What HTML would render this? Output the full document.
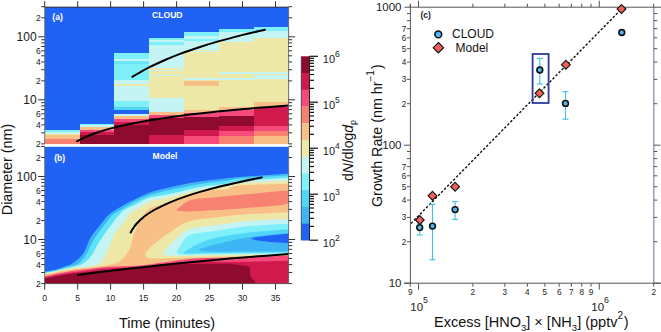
<!DOCTYPE html><html><head><meta charset="utf-8"><style>html,body{margin:0;padding:0;background:#fff;width:661px;height:332px;overflow:hidden}svg{display:block}</style></head><body>
<svg width="661" height="332" viewBox="0 0 661 332" font-family='"Liberation Sans", sans-serif'>
<defs><clipPath id="ca"><rect x="44.7" y="7.2" width="243.9" height="136.7"/></clipPath>
<clipPath id="cb"><rect x="44.7" y="146.6" width="243.9" height="137.0"/></clipPath></defs>
<g clip-path="url(#ca)" shape-rendering="crispEdges">
<rect x="44.7" y="7.2" width="243.9" height="136.7" fill="#2062f4"/>
<rect x="44.7" y="129.9" width="35.1" height="1.9" fill="#7ef0fa"/>
<rect x="44.7" y="131.8" width="35.1" height="1.7" fill="#c4f4f4"/>
<rect x="44.7" y="133.5" width="35.1" height="1.9" fill="#eee8a8"/>
<rect x="44.7" y="135.4" width="35.1" height="3.6" fill="#f8c086"/>
<rect x="44.7" y="139.0" width="35.1" height="6.0" fill="#f88272"/>
<rect x="79.8" y="123.6" width="34.5" height="1.0" fill="#7ef0fa"/>
<rect x="79.8" y="124.6" width="34.5" height="2.6" fill="#c4f4f4"/>
<rect x="79.8" y="127.2" width="34.5" height="2.3" fill="#f8c086"/>
<rect x="79.8" y="129.5" width="34.5" height="2.2" fill="#f64a7a"/>
<rect x="79.8" y="131.7" width="34.5" height="3.6" fill="#d01a4e"/>
<rect x="79.8" y="135.3" width="34.5" height="9.7" fill="#8e0a2e"/>
<rect x="114.3" y="52.5" width="34.7" height="6.0" fill="#7ef0fa"/>
<rect x="114.3" y="58.5" width="34.7" height="2.0" fill="#c4f4f4"/>
<rect x="114.3" y="60.5" width="34.7" height="3.0" fill="#6ae4f6"/>
<rect x="114.3" y="63.5" width="34.7" height="16.9" fill="#7ef0fa"/>
<rect x="114.3" y="80.4" width="34.7" height="3.5" fill="#c4f4f4"/>
<rect x="114.3" y="83.9" width="34.7" height="2.5" fill="#eee8a8"/>
<rect x="114.3" y="86.4" width="34.7" height="14.3" fill="#c4f4f4"/>
<rect x="114.3" y="100.7" width="34.7" height="6.0" fill="#7ef0fa"/>
<rect x="114.3" y="106.7" width="34.7" height="3.3" fill="#52d6f8"/>
<rect x="114.3" y="110.0" width="34.7" height="3.8" fill="#2062f4"/>
<rect x="114.3" y="113.8" width="34.7" height="2.3" fill="#c4f4f4"/>
<rect x="114.3" y="116.1" width="34.7" height="3.2" fill="#f8c086"/>
<rect x="114.3" y="119.3" width="34.7" height="2.5" fill="#f64a7a"/>
<rect x="114.3" y="121.8" width="34.7" height="3.2" fill="#d01a4e"/>
<rect x="114.3" y="125.0" width="34.7" height="20.0" fill="#8e0a2e"/>
<rect x="149.0" y="37.8" width="35.2" height="2.2" fill="#7ef0fa"/>
<rect x="149.0" y="40.0" width="35.2" height="2.3" fill="#c4f4f4"/>
<rect x="149.0" y="42.3" width="35.2" height="3.0" fill="#7ef0fa"/>
<rect x="149.0" y="45.3" width="35.2" height="22.2" fill="#c4f4f4"/>
<rect x="149.0" y="67.5" width="35.2" height="2.0" fill="#eee8a8"/>
<rect x="149.0" y="69.5" width="35.2" height="1.5" fill="#c4f4f4"/>
<rect x="149.0" y="71.0" width="35.2" height="3.5" fill="#eee8a8"/>
<rect x="149.0" y="74.5" width="35.2" height="1.5" fill="#c4f4f4"/>
<rect x="149.0" y="76.0" width="35.2" height="22.2" fill="#eee8a8"/>
<rect x="149.0" y="98.2" width="35.2" height="13.7" fill="#c4f4f4"/>
<rect x="149.0" y="111.9" width="35.2" height="3.1" fill="#f8c086"/>
<rect x="149.0" y="115.0" width="35.2" height="3.2" fill="#f64a7a"/>
<rect x="149.0" y="118.2" width="35.2" height="16.9" fill="#8e0a2e"/>
<rect x="149.0" y="135.1" width="35.2" height="9.9" fill="#d01a4e"/>
<rect x="184.2" y="31.8" width="34.6" height="3.7" fill="#7ef0fa"/>
<rect x="184.2" y="35.5" width="34.6" height="3.1" fill="#c4f4f4"/>
<rect x="184.2" y="38.6" width="34.6" height="2.2" fill="#7ef0fa"/>
<rect x="184.2" y="40.8" width="34.6" height="9.0" fill="#c4f4f4"/>
<rect x="184.2" y="49.8" width="34.6" height="0.7" fill="#eee8a8"/>
<rect x="184.2" y="50.5" width="34.6" height="1.5" fill="#c4f4f4"/>
<rect x="184.2" y="52.0" width="34.6" height="26.0" fill="#eee8a8"/>
<rect x="184.2" y="78.0" width="34.6" height="2.0" fill="#c4f4f4"/>
<rect x="184.2" y="80.0" width="34.6" height="1.3" fill="#eee8a8"/>
<rect x="184.2" y="81.3" width="34.6" height="4.2" fill="#f8c086"/>
<rect x="184.2" y="85.5" width="34.6" height="24.3" fill="#eee8a8"/>
<rect x="184.2" y="109.8" width="34.6" height="3.2" fill="#f8c086"/>
<rect x="184.2" y="113.0" width="34.6" height="4.2" fill="#f64a7a"/>
<rect x="184.2" y="117.2" width="34.6" height="12.7" fill="#8e0a2e"/>
<rect x="184.2" y="129.9" width="34.6" height="6.3" fill="#d01a4e"/>
<rect x="184.2" y="136.2" width="34.6" height="8.8" fill="#f64a7a"/>
<rect x="218.8" y="29.0" width="34.8" height="3.3" fill="#7ef0fa"/>
<rect x="218.8" y="32.3" width="34.8" height="9.7" fill="#c4f4f4"/>
<rect x="218.8" y="42.0" width="34.8" height="30.0" fill="#eee8a8"/>
<rect x="218.8" y="72.0" width="34.8" height="1.5" fill="#c4f4f4"/>
<rect x="218.8" y="73.5" width="34.8" height="4.7" fill="#eee8a8"/>
<rect x="218.8" y="78.2" width="34.8" height="1.8" fill="#c4f4f4"/>
<rect x="218.8" y="80.0" width="34.8" height="26.6" fill="#eee8a8"/>
<rect x="218.8" y="106.6" width="34.8" height="3.2" fill="#f8c086"/>
<rect x="218.8" y="109.8" width="34.8" height="6.3" fill="#f64a7a"/>
<rect x="218.8" y="116.1" width="34.8" height="9.5" fill="#8e0a2e"/>
<rect x="218.8" y="125.6" width="34.8" height="5.3" fill="#d01a4e"/>
<rect x="218.8" y="130.9" width="34.8" height="5.3" fill="#f64a7a"/>
<rect x="218.8" y="136.2" width="34.8" height="8.8" fill="#f88272"/>
<rect x="253.6" y="26.8" width="35.0" height="4.2" fill="#7ef0fa"/>
<rect x="253.6" y="31.0" width="35.0" height="6.5" fill="#c4f4f4"/>
<rect x="253.6" y="37.5" width="35.0" height="34.5" fill="#eee8a8"/>
<rect x="253.6" y="72.0" width="35.0" height="1.5" fill="#c4f4f4"/>
<rect x="253.6" y="73.5" width="35.0" height="1.5" fill="#eee8a8"/>
<rect x="253.6" y="75.0" width="35.0" height="4.0" fill="#c4f4f4"/>
<rect x="253.6" y="79.0" width="35.0" height="23.4" fill="#eee8a8"/>
<rect x="253.6" y="102.4" width="35.0" height="4.2" fill="#f8c086"/>
<rect x="253.6" y="106.6" width="35.0" height="19.0" fill="#d01a4e"/>
<rect x="253.6" y="125.6" width="35.0" height="5.3" fill="#f64a7a"/>
<rect x="253.6" y="130.9" width="35.0" height="5.3" fill="#f88272"/>
<rect x="253.6" y="136.2" width="35.0" height="8.8" fill="#f8c086"/>
<path shape-rendering="auto" d="M132.4,76.8 C133.7,76.0 137.1,73.9 140.0,72.3 C142.9,70.7 145.8,69.0 150.0,66.9 C154.2,64.9 160.0,62.2 165.0,60.0 C170.0,57.8 174.2,56.1 180.0,53.9 C185.8,51.7 193.3,49.2 200.0,47.0 C206.7,44.8 213.3,42.8 220.0,40.9 C226.7,39.0 232.5,37.5 240.0,35.6 C247.5,33.7 260.8,30.7 265.0,29.7" fill="none" stroke="#000" stroke-width="2" stroke-linecap="round"/>
<path shape-rendering="auto" d="M77.0,141.3 C78.3,140.6 82.0,138.6 85.0,137.3 C88.0,136.0 90.8,134.8 95.0,133.3 C99.2,131.9 104.2,130.2 110.0,128.6 C115.8,127.0 122.5,125.4 130.0,123.9 C137.5,122.4 145.8,120.9 155.0,119.4 C164.2,118.0 174.2,116.6 185.0,115.2 C195.8,113.8 208.3,112.5 220.0,111.3 C231.7,110.1 243.5,109.1 255.0,108.1 C266.5,107.1 283.3,105.9 289.0,105.5" fill="none" stroke="#000" stroke-width="2" stroke-linecap="round"/>
</g>
<text x="52.3" y="20.3" font-size="8.6" font-weight="700" fill="#fff">(a)</text>
<text x="152" y="17.6" font-size="8.6" font-weight="700" fill="#fff">CLOUD</text>
<g clip-path="url(#cb)">
<rect x="44.7" y="146.6" width="243.9" height="137.0" fill="#2062f4"/>
<path d="M40.0,272.3 C40.8,272.2 42.5,272.0 45.0,271.6 C47.5,271.2 51.5,270.7 55.0,269.8 C58.5,268.9 63.3,267.1 66.0,266.1 C68.7,265.1 69.5,265.0 71.4,263.9 C73.4,262.8 75.7,261.2 77.7,259.4 C79.7,257.6 81.9,255.6 83.6,253.0 C85.3,250.4 86.6,246.4 87.7,244.0 C88.8,241.6 89.1,240.2 90.0,238.5 C90.9,236.8 91.3,236.2 93.0,234.0 C94.7,231.8 97.6,228.2 100.2,225.0 C102.8,221.8 105.3,217.9 108.5,215.0 C111.7,212.1 114.9,210.2 119.5,207.5 C124.1,204.8 130.9,201.3 136.0,198.8 C141.1,196.3 144.3,194.5 150.0,192.6 C155.7,190.7 164.2,188.7 170.0,187.3 C175.8,185.9 180.0,185.0 185.0,184.0 C190.0,183.0 193.3,182.4 200.0,181.5 C206.7,180.6 218.3,179.2 225.0,178.5 C231.7,177.8 229.0,177.9 240.0,177.0 C251.0,176.1 282.5,173.9 291.0,173.3 L295.0,290.0 L40.0,290.0 Z" fill="#3eb6f6"/>
<path d="M40.0,273.0 C40.8,272.9 42.5,272.7 45.0,272.3 C47.5,271.9 51.5,271.3 55.0,270.5 C58.5,269.7 63.3,268.2 66.0,267.5 C68.7,266.8 69.5,266.7 71.4,266.1 C73.4,265.5 75.8,265.0 77.7,263.9 C79.6,262.8 81.1,261.2 82.7,259.4 C84.3,257.6 85.7,255.6 87.2,253.0 C88.7,250.4 89.8,247.2 91.5,244.0 C93.2,240.8 95.3,237.2 97.5,234.0 C99.7,230.8 102.0,228.2 104.5,225.0 C107.0,221.8 109.7,217.6 112.5,215.0 C115.3,212.4 117.6,211.8 121.5,209.5 C125.4,207.2 131.2,203.7 136.0,201.3 C140.8,198.9 144.3,196.9 150.0,195.0 C155.7,193.1 161.7,191.8 170.0,189.9 C178.3,188.1 190.8,185.4 200.0,183.9 C209.2,182.4 218.3,181.9 225.0,181.0 C231.7,180.1 229.0,179.5 240.0,178.5 C251.0,177.5 282.5,175.8 291.0,175.2 L295.0,290.0 L40.0,290.0 Z" fill="#5ee2f8"/>
<path d="M40.0,273.6 C40.8,273.5 42.5,273.4 45.0,273.0 C47.5,272.6 51.5,271.9 55.0,271.2 C58.5,270.4 62.7,269.3 66.0,268.5 C69.3,267.7 72.3,267.2 75.0,266.4 C77.7,265.6 80.1,265.1 82.3,263.9 C84.5,262.7 86.3,261.2 88.1,259.4 C89.9,257.6 91.4,255.6 93.1,253.0 C94.8,250.4 96.1,247.2 98.0,244.0 C99.9,240.8 102.3,237.2 104.5,234.0 C106.7,230.8 108.8,228.2 111.2,225.0 C113.6,221.8 116.4,217.7 118.9,215.0 C121.4,212.3 123.3,210.7 126.0,209.0 C128.7,207.3 131.0,206.6 135.0,204.7 C139.0,202.8 144.2,199.3 150.0,197.5 C155.8,195.7 161.7,195.7 170.0,193.9 C178.3,192.1 190.8,188.6 200.0,186.9 C209.2,185.2 218.3,184.9 225.0,183.9 C231.7,182.9 229.0,182.1 240.0,181.0 C251.0,179.9 282.5,178.1 291.0,177.5 L295.0,290.0 L40.0,290.0 Z" fill="#c4f4f4"/>
<path d="M40.0,274.2 C40.8,274.1 40.7,274.5 45.0,273.7 C49.3,272.9 60.2,270.2 66.0,269.2 C71.8,268.2 76.0,268.1 80.0,267.6 C84.0,267.1 87.0,266.8 90.0,266.3 C93.0,265.8 96.0,265.4 98.0,264.5 C100.0,263.6 100.4,263.4 102.0,261.0 C103.6,258.6 105.9,253.5 107.5,250.0 C109.1,246.5 110.6,242.7 111.8,240.0 C113.0,237.3 112.9,236.5 114.4,234.0 C115.9,231.5 118.6,228.2 121.0,225.0 C123.4,221.8 126.6,217.5 128.9,215.0 C131.2,212.5 131.5,212.2 135.0,210.0 C138.5,207.8 144.2,203.9 150.0,201.7 C155.8,199.5 161.7,199.0 170.0,197.0 C178.3,195.0 190.8,191.6 200.0,189.9 C209.2,188.2 218.3,188.0 225.0,186.9 C231.7,185.8 229.0,184.6 240.0,183.5 C251.0,182.4 282.5,181.0 291.0,180.5 L295.0,290.0 L40.0,290.0 Z" fill="#eee8a8"/>
<path d="M40.0,275.0 C40.8,274.9 40.7,275.3 45.0,274.5 C49.3,273.7 59.5,271.5 66.0,270.4 C72.5,269.3 77.3,268.8 84.0,268.0 C90.7,267.2 100.7,266.2 106.0,265.4 C111.3,264.6 113.4,263.9 116.0,263.0 C118.6,262.1 119.4,262.2 121.6,260.0 C123.8,257.8 127.3,253.3 129.1,250.0 C130.9,246.7 131.5,243.0 132.4,240.0 C133.3,237.0 133.6,234.5 134.5,232.0 C135.4,229.5 136.7,227.3 137.9,225.0 C139.2,222.7 140.0,220.8 142.0,218.0 C144.0,215.2 145.3,210.8 150.0,208.3 C154.7,205.8 161.7,205.7 170.0,202.9 C178.3,200.1 190.8,194.0 200.0,191.7 C209.2,189.4 218.3,190.3 225.0,189.3 C231.7,188.3 229.0,186.4 240.0,185.5 C251.0,184.6 282.5,184.1 291.0,183.8 L295.0,290.0 L40.0,290.0 Z" fill="#f8c086"/>
<path d="M176.0,210.5 C178.3,208.8 182.7,202.8 190.0,200.5 C197.3,198.2 210.0,197.9 220.0,196.8 C230.0,195.7 238.0,194.9 250.0,194.0 C262.0,193.1 285.0,189.7 292.0,191.2 C299.0,192.7 300.7,200.1 292.0,203.0 C283.3,205.9 255.3,207.2 240.0,208.5 C224.7,209.8 209.2,210.5 200.0,211.0 C190.8,211.5 187.5,211.4 185.0,211.5 Z" fill="#f88272"/>
<path d="M292.0,212.0 C285.0,212.3 262.0,213.2 250.0,214.0 C238.0,214.8 230.0,215.8 220.0,217.0 C210.0,218.2 198.0,218.7 190.0,221.0 C182.0,223.3 177.3,227.7 172.0,231.0 C166.7,234.3 162.0,237.8 158.0,241.0 C154.0,244.2 150.1,247.8 148.0,250.0 C145.9,252.2 145.1,252.6 145.4,254.0 C145.7,255.4 145.9,257.5 150.0,258.2 C154.1,258.9 161.7,258.4 170.0,258.2 C178.3,258.0 188.3,257.5 200.0,257.2 C211.7,256.9 224.7,256.6 240.0,256.2 C255.3,255.8 283.3,255.2 292.0,255.0 Z" fill="#eee8a8"/>
<path d="M292.0,219.0 C285.0,219.3 262.0,219.8 250.0,220.8 C238.0,221.8 230.0,223.4 220.0,224.8 C210.0,226.2 197.5,226.5 190.0,229.0 C182.5,231.5 179.0,236.7 175.0,240.0 C171.0,243.3 167.9,246.8 166.0,249.0 C164.1,251.2 163.2,251.9 163.5,253.0 C163.8,254.1 161.9,255.2 168.0,255.6 C174.1,256.0 188.0,255.5 200.0,255.4 C212.0,255.3 224.7,255.0 240.0,254.8 C255.3,254.6 283.3,254.1 292.0,254.0 Z" fill="#c4f4f4"/>
<path d="M292.0,223.5 C285.0,223.9 262.0,224.9 250.0,226.0 C238.0,227.1 230.0,228.8 220.0,230.3 C210.0,231.8 196.5,232.6 190.0,235.0 C183.5,237.4 183.2,242.2 181.0,245.0 C178.8,247.8 176.8,250.4 177.0,252.0 C177.2,253.6 176.5,254.2 182.0,254.6 C187.5,255.0 198.7,254.4 210.0,254.3 C221.3,254.2 236.3,254.0 250.0,253.8 C263.7,253.6 285.0,253.3 292.0,253.2 Z" fill="#7ef0fa"/>
<path d="M292.0,229.0 C285.0,229.6 262.0,231.2 250.0,232.5 C238.0,233.8 228.3,235.2 220.0,237.0 C211.7,238.8 205.7,240.7 200.0,243.0 C194.3,245.3 188.5,249.2 186.0,251.0 C183.5,252.8 182.7,253.1 185.0,253.5 C187.3,253.9 190.8,253.4 200.0,253.3 C209.2,253.2 224.7,253.0 240.0,252.8 C255.3,252.7 283.3,252.5 292.0,252.4 Z" fill="#52d6f8"/>
<path d="M292.0,232.5 C285.0,233.2 260.3,235.6 250.0,237.0 C239.7,238.4 236.7,239.5 230.0,241.0 C223.3,242.5 215.2,244.6 210.0,246.0 C204.8,247.4 199.0,248.6 199.0,249.5 C199.0,250.4 203.2,251.3 210.0,251.6 C216.8,251.9 226.3,251.6 240.0,251.5 C253.7,251.4 283.3,251.2 292.0,251.2 Z" fill="#3eb6f6"/>
<path d="M292.0,233.5 C288.3,233.8 276.8,234.7 270.0,235.5 C263.2,236.3 251.0,237.5 251.0,238.6 C251.0,239.7 263.2,241.2 270.0,242.0 C276.8,242.8 288.3,243.0 292.0,243.2 Z" fill="#2062f4"/>
<path d="M40.0,276.6 C40.8,276.5 40.7,276.8 45.0,276.0 C49.3,275.2 59.5,273.1 66.0,272.0 C72.5,270.9 77.3,270.4 84.0,269.6 C90.7,268.8 96.7,267.7 106.0,267.0 C115.3,266.3 129.3,266.4 140.0,265.5 C150.7,264.6 160.8,262.7 170.0,261.5 C179.2,260.3 185.0,259.2 195.0,258.5 C205.0,257.8 214.0,258.0 230.0,257.5 C246.0,257.0 280.8,255.9 291.0,255.6 L295.0,290.0 L40.0,290.0 Z" fill="#f64a7a"/>
<path d="M40.0,278.0 C40.8,277.9 40.7,278.2 45.0,277.4 C49.3,276.6 59.5,274.4 66.0,273.4 C72.5,272.4 77.3,272.0 84.0,271.2 C90.7,270.4 96.7,269.2 106.0,268.5 C115.3,267.8 129.3,267.7 140.0,266.8 C150.7,265.9 160.8,264.3 170.0,263.4 C179.2,262.5 185.0,261.7 195.0,261.5 C205.0,261.3 219.2,262.0 230.0,262.0 C240.8,262.0 249.8,261.7 260.0,261.5 C270.2,261.3 285.8,260.9 291.0,260.8 L295.0,290.0 L40.0,290.0 Z" fill="#d01a4e"/>
<polygon points="40.0,278.9 45.0,278.3 66.0,274.6 84.0,272.6 106.0,270.3 140.0,267.8 170.0,264.6 195.0,263.9 230.0,263.7 249.6,266.4 250.3,276.6 262.0,290.0 40.0,290.0" fill="#8e0a2e" />
<path d="M130.7,232.4 C131.2,231.6 132.4,229.3 133.5,227.8 C134.6,226.3 135.2,225.1 137.0,223.2 C138.8,221.3 141.3,218.8 144.3,216.5 C147.3,214.2 150.7,211.9 155.0,209.5 C159.3,207.1 165.0,204.5 170.0,202.3 C175.0,200.2 180.0,198.3 185.0,196.6 C190.0,194.9 194.2,193.6 200.0,191.9 C205.8,190.2 213.3,188.2 220.0,186.5 C226.7,184.8 233.0,183.4 240.0,181.9 C247.0,180.4 258.2,178.2 261.8,177.5" fill="none" stroke="#000" stroke-width="2" stroke-linecap="round"/>
<path d="M77.8,274.9 C81.5,274.4 91.3,273.2 100.0,272.1 C108.7,271.0 120.0,269.6 130.0,268.5 C140.0,267.4 150.0,266.4 160.0,265.3 C170.0,264.2 180.0,263.2 190.0,262.2 C200.0,261.2 210.0,260.3 220.0,259.4 C230.0,258.5 238.5,257.8 250.0,256.9 C261.5,256.0 282.5,254.5 289.0,254.0" fill="none" stroke="#000" stroke-width="2" stroke-linecap="round"/>
</g>
<text x="54.2" y="160.6" font-size="8.6" font-weight="700" fill="#fff">(b)</text>
<text x="152.5" y="158.7" font-size="8.6" font-weight="700" fill="#fff">Model</text>
<line x1="44.7" y1="7.2" x2="44.7" y2="143.9" stroke="#666" stroke-width="0.90" />
<line x1="288.6" y1="7.2" x2="288.6" y2="143.9" stroke="#666" stroke-width="0.90" />
<line x1="41.2" y1="143.9" x2="44.7" y2="143.9" stroke="#333" stroke-width="1.00" />
<line x1="288.6" y1="143.9" x2="292.1" y2="143.9" stroke="#333" stroke-width="1.00" />
<line x1="41.2" y1="132.8" x2="44.7" y2="132.8" stroke="#333" stroke-width="1.00" />
<line x1="288.6" y1="132.8" x2="292.1" y2="132.8" stroke="#333" stroke-width="1.00" />
<line x1="41.2" y1="124.9" x2="44.7" y2="124.9" stroke="#333" stroke-width="1.00" />
<line x1="288.6" y1="124.9" x2="292.1" y2="124.9" stroke="#333" stroke-width="1.00" />
<line x1="41.2" y1="118.8" x2="44.7" y2="118.8" stroke="#333" stroke-width="1.00" />
<line x1="288.6" y1="118.8" x2="292.1" y2="118.8" stroke="#333" stroke-width="1.00" />
<line x1="41.2" y1="113.8" x2="44.7" y2="113.8" stroke="#333" stroke-width="1.00" />
<line x1="288.6" y1="113.8" x2="292.1" y2="113.8" stroke="#333" stroke-width="1.00" />
<line x1="41.2" y1="109.6" x2="44.7" y2="109.6" stroke="#333" stroke-width="1.00" />
<line x1="288.6" y1="109.6" x2="292.1" y2="109.6" stroke="#333" stroke-width="1.00" />
<line x1="41.2" y1="105.9" x2="44.7" y2="105.9" stroke="#333" stroke-width="1.00" />
<line x1="288.6" y1="105.9" x2="292.1" y2="105.9" stroke="#333" stroke-width="1.00" />
<line x1="41.2" y1="102.7" x2="44.7" y2="102.7" stroke="#333" stroke-width="1.00" />
<line x1="288.6" y1="102.7" x2="292.1" y2="102.7" stroke="#333" stroke-width="1.00" />
<line x1="38.2" y1="99.8" x2="44.7" y2="99.8" stroke="#333" stroke-width="1.00" />
<line x1="288.6" y1="99.8" x2="295.1" y2="99.8" stroke="#333" stroke-width="1.00" />
<line x1="41.2" y1="80.9" x2="44.7" y2="80.9" stroke="#333" stroke-width="1.00" />
<line x1="288.6" y1="80.9" x2="292.1" y2="80.9" stroke="#333" stroke-width="1.00" />
<line x1="41.2" y1="69.7" x2="44.7" y2="69.7" stroke="#333" stroke-width="1.00" />
<line x1="288.6" y1="69.7" x2="292.1" y2="69.7" stroke="#333" stroke-width="1.00" />
<line x1="41.2" y1="61.9" x2="44.7" y2="61.9" stroke="#333" stroke-width="1.00" />
<line x1="288.6" y1="61.9" x2="292.1" y2="61.9" stroke="#333" stroke-width="1.00" />
<line x1="41.2" y1="55.8" x2="44.7" y2="55.8" stroke="#333" stroke-width="1.00" />
<line x1="288.6" y1="55.8" x2="292.1" y2="55.8" stroke="#333" stroke-width="1.00" />
<line x1="41.2" y1="50.8" x2="44.7" y2="50.8" stroke="#333" stroke-width="1.00" />
<line x1="288.6" y1="50.8" x2="292.1" y2="50.8" stroke="#333" stroke-width="1.00" />
<line x1="41.2" y1="46.5" x2="44.7" y2="46.5" stroke="#333" stroke-width="1.00" />
<line x1="288.6" y1="46.5" x2="292.1" y2="46.5" stroke="#333" stroke-width="1.00" />
<line x1="41.2" y1="42.9" x2="44.7" y2="42.9" stroke="#333" stroke-width="1.00" />
<line x1="288.6" y1="42.9" x2="292.1" y2="42.9" stroke="#333" stroke-width="1.00" />
<line x1="41.2" y1="39.7" x2="44.7" y2="39.7" stroke="#333" stroke-width="1.00" />
<line x1="288.6" y1="39.7" x2="292.1" y2="39.7" stroke="#333" stroke-width="1.00" />
<line x1="38.2" y1="36.8" x2="44.7" y2="36.8" stroke="#333" stroke-width="1.00" />
<line x1="288.6" y1="36.8" x2="295.1" y2="36.8" stroke="#333" stroke-width="1.00" />
<line x1="41.2" y1="17.8" x2="44.7" y2="17.8" stroke="#333" stroke-width="1.00" />
<line x1="288.6" y1="17.8" x2="292.1" y2="17.8" stroke="#333" stroke-width="1.00" />
<line x1="41.2" y1="6.7" x2="44.7" y2="6.7" stroke="#333" stroke-width="1.00" />
<line x1="288.6" y1="6.7" x2="292.1" y2="6.7" stroke="#333" stroke-width="1.00" />
<text x="40.9" y="20.9" font-size="8.6" text-anchor="end" fill="#1a1a1a">2</text>
<text x="36.6" y="41.0" font-size="12" text-anchor="end" fill="#1a1a1a">100</text>
<text x="40.9" y="53.9" font-size="8.6" text-anchor="end" fill="#1a1a1a">6</text>
<text x="40.9" y="65.0" font-size="8.6" text-anchor="end" fill="#1a1a1a">4</text>
<text x="40.9" y="84.0" font-size="8.6" text-anchor="end" fill="#1a1a1a">2</text>
<text x="36.6" y="104.0" font-size="12" text-anchor="end" fill="#1a1a1a">10</text>
<text x="40.9" y="116.9" font-size="8.6" text-anchor="end" fill="#1a1a1a">6</text>
<text x="40.9" y="128.0" font-size="8.6" text-anchor="end" fill="#1a1a1a">4</text>
<text x="40.9" y="147.0" font-size="8.6" text-anchor="end" fill="#1a1a1a">2</text>
<line x1="44.7" y1="146.6" x2="44.7" y2="283.6" stroke="#666" stroke-width="0.90" />
<line x1="288.6" y1="146.6" x2="288.6" y2="283.6" stroke="#666" stroke-width="0.90" />
<line x1="41.2" y1="283.6" x2="44.7" y2="283.6" stroke="#333" stroke-width="1.00" />
<line x1="288.6" y1="283.6" x2="292.1" y2="283.6" stroke="#333" stroke-width="1.00" />
<line x1="41.2" y1="272.5" x2="44.7" y2="272.5" stroke="#333" stroke-width="1.00" />
<line x1="288.6" y1="272.5" x2="292.1" y2="272.5" stroke="#333" stroke-width="1.00" />
<line x1="41.2" y1="264.6" x2="44.7" y2="264.6" stroke="#333" stroke-width="1.00" />
<line x1="288.6" y1="264.6" x2="292.1" y2="264.6" stroke="#333" stroke-width="1.00" />
<line x1="41.2" y1="258.5" x2="44.7" y2="258.5" stroke="#333" stroke-width="1.00" />
<line x1="288.6" y1="258.5" x2="292.1" y2="258.5" stroke="#333" stroke-width="1.00" />
<line x1="41.2" y1="253.5" x2="44.7" y2="253.5" stroke="#333" stroke-width="1.00" />
<line x1="288.6" y1="253.5" x2="292.1" y2="253.5" stroke="#333" stroke-width="1.00" />
<line x1="41.2" y1="249.3" x2="44.7" y2="249.3" stroke="#333" stroke-width="1.00" />
<line x1="288.6" y1="249.3" x2="292.1" y2="249.3" stroke="#333" stroke-width="1.00" />
<line x1="41.2" y1="245.6" x2="44.7" y2="245.6" stroke="#333" stroke-width="1.00" />
<line x1="288.6" y1="245.6" x2="292.1" y2="245.6" stroke="#333" stroke-width="1.00" />
<line x1="41.2" y1="242.4" x2="44.7" y2="242.4" stroke="#333" stroke-width="1.00" />
<line x1="288.6" y1="242.4" x2="292.1" y2="242.4" stroke="#333" stroke-width="1.00" />
<line x1="38.2" y1="239.5" x2="44.7" y2="239.5" stroke="#333" stroke-width="1.00" />
<line x1="288.6" y1="239.5" x2="295.1" y2="239.5" stroke="#333" stroke-width="1.00" />
<line x1="41.2" y1="220.6" x2="44.7" y2="220.6" stroke="#333" stroke-width="1.00" />
<line x1="288.6" y1="220.6" x2="292.1" y2="220.6" stroke="#333" stroke-width="1.00" />
<line x1="41.2" y1="209.4" x2="44.7" y2="209.4" stroke="#333" stroke-width="1.00" />
<line x1="288.6" y1="209.4" x2="292.1" y2="209.4" stroke="#333" stroke-width="1.00" />
<line x1="41.2" y1="201.6" x2="44.7" y2="201.6" stroke="#333" stroke-width="1.00" />
<line x1="288.6" y1="201.6" x2="292.1" y2="201.6" stroke="#333" stroke-width="1.00" />
<line x1="41.2" y1="195.5" x2="44.7" y2="195.5" stroke="#333" stroke-width="1.00" />
<line x1="288.6" y1="195.5" x2="292.1" y2="195.5" stroke="#333" stroke-width="1.00" />
<line x1="41.2" y1="190.5" x2="44.7" y2="190.5" stroke="#333" stroke-width="1.00" />
<line x1="288.6" y1="190.5" x2="292.1" y2="190.5" stroke="#333" stroke-width="1.00" />
<line x1="41.2" y1="186.2" x2="44.7" y2="186.2" stroke="#333" stroke-width="1.00" />
<line x1="288.6" y1="186.2" x2="292.1" y2="186.2" stroke="#333" stroke-width="1.00" />
<line x1="41.2" y1="182.6" x2="44.7" y2="182.6" stroke="#333" stroke-width="1.00" />
<line x1="288.6" y1="182.6" x2="292.1" y2="182.6" stroke="#333" stroke-width="1.00" />
<line x1="41.2" y1="179.4" x2="44.7" y2="179.4" stroke="#333" stroke-width="1.00" />
<line x1="288.6" y1="179.4" x2="292.1" y2="179.4" stroke="#333" stroke-width="1.00" />
<line x1="38.2" y1="176.5" x2="44.7" y2="176.5" stroke="#333" stroke-width="1.00" />
<line x1="288.6" y1="176.5" x2="295.1" y2="176.5" stroke="#333" stroke-width="1.00" />
<line x1="41.2" y1="157.5" x2="44.7" y2="157.5" stroke="#333" stroke-width="1.00" />
<line x1="288.6" y1="157.5" x2="292.1" y2="157.5" stroke="#333" stroke-width="1.00" />
<line x1="41.2" y1="146.4" x2="44.7" y2="146.4" stroke="#333" stroke-width="1.00" />
<line x1="288.6" y1="146.4" x2="292.1" y2="146.4" stroke="#333" stroke-width="1.00" />
<text x="40.9" y="160.6" font-size="8.6" text-anchor="end" fill="#1a1a1a">2</text>
<text x="36.6" y="180.7" font-size="12" text-anchor="end" fill="#1a1a1a">100</text>
<text x="40.9" y="193.6" font-size="8.6" text-anchor="end" fill="#1a1a1a">6</text>
<text x="40.9" y="204.7" font-size="8.6" text-anchor="end" fill="#1a1a1a">4</text>
<text x="40.9" y="223.7" font-size="8.6" text-anchor="end" fill="#1a1a1a">2</text>
<text x="36.6" y="243.7" font-size="12" text-anchor="end" fill="#1a1a1a">10</text>
<text x="40.9" y="256.6" font-size="8.6" text-anchor="end" fill="#1a1a1a">6</text>
<text x="40.9" y="267.7" font-size="8.6" text-anchor="end" fill="#1a1a1a">4</text>
<text x="40.9" y="286.7" font-size="8.6" text-anchor="end" fill="#1a1a1a">2</text>
<line x1="44.7" y1="7.2" x2="288.6" y2="7.2" stroke="#223" stroke-width="1.00" />
<line x1="44.7" y1="283.6" x2="288.6" y2="283.6" stroke="#555" stroke-width="0.90" />
<line x1="44.7" y1="1.2" x2="44.7" y2="7.2" stroke="#333" stroke-width="1.00" />
<line x1="44.7" y1="283.6" x2="44.7" y2="289.6" stroke="#333" stroke-width="1.00" />
<text x="44.7" y="300.8" font-size="8.6" text-anchor="middle" fill="#222">0</text>
<line x1="77.7" y1="1.2" x2="77.7" y2="7.2" stroke="#333" stroke-width="1.00" />
<line x1="77.7" y1="283.6" x2="77.7" y2="289.6" stroke="#333" stroke-width="1.00" />
<text x="77.7" y="300.8" font-size="8.6" text-anchor="middle" fill="#222">5</text>
<line x1="110.6" y1="1.2" x2="110.6" y2="7.2" stroke="#333" stroke-width="1.00" />
<line x1="110.6" y1="283.6" x2="110.6" y2="289.6" stroke="#333" stroke-width="1.00" />
<text x="110.6" y="300.8" font-size="8.6" text-anchor="middle" fill="#222">10</text>
<line x1="143.6" y1="1.2" x2="143.6" y2="7.2" stroke="#333" stroke-width="1.00" />
<line x1="143.6" y1="283.6" x2="143.6" y2="289.6" stroke="#333" stroke-width="1.00" />
<text x="143.6" y="300.8" font-size="8.6" text-anchor="middle" fill="#222">15</text>
<line x1="176.6" y1="1.2" x2="176.6" y2="7.2" stroke="#333" stroke-width="1.00" />
<line x1="176.6" y1="283.6" x2="176.6" y2="289.6" stroke="#333" stroke-width="1.00" />
<text x="176.6" y="300.8" font-size="8.6" text-anchor="middle" fill="#222">20</text>
<line x1="209.6" y1="1.2" x2="209.6" y2="7.2" stroke="#333" stroke-width="1.00" />
<line x1="209.6" y1="283.6" x2="209.6" y2="289.6" stroke="#333" stroke-width="1.00" />
<text x="209.6" y="300.8" font-size="8.6" text-anchor="middle" fill="#222">25</text>
<line x1="242.5" y1="1.2" x2="242.5" y2="7.2" stroke="#333" stroke-width="1.00" />
<line x1="242.5" y1="283.6" x2="242.5" y2="289.6" stroke="#333" stroke-width="1.00" />
<text x="242.5" y="300.8" font-size="8.6" text-anchor="middle" fill="#222">30</text>
<line x1="275.5" y1="1.2" x2="275.5" y2="7.2" stroke="#333" stroke-width="1.00" />
<line x1="275.5" y1="283.6" x2="275.5" y2="289.6" stroke="#333" stroke-width="1.00" />
<text x="275.5" y="300.8" font-size="8.6" text-anchor="middle" fill="#222">35</text>
<text x="167" y="327.8" font-size="14.5" text-anchor="middle" fill="#111">Time (minutes)</text>
<text transform="translate(12.3,169.5) rotate(-90)" font-size="14.3" text-anchor="middle" fill="#111">Diameter (nm)</text>
<rect x="301.3" y="56.30" width="8.2" height="17.02" fill="#8e0a2e"/>
<rect x="301.3" y="73.02" width="8.2" height="17.02" fill="#d01a4e"/>
<rect x="301.3" y="89.74" width="8.2" height="17.02" fill="#f64a7a"/>
<rect x="301.3" y="106.45" width="8.2" height="17.02" fill="#f88272"/>
<rect x="301.3" y="123.17" width="8.2" height="17.02" fill="#f8c086"/>
<rect x="301.3" y="139.89" width="8.2" height="17.02" fill="#eee8a8"/>
<rect x="301.3" y="156.61" width="8.2" height="17.02" fill="#c4f4f4"/>
<rect x="301.3" y="173.33" width="8.2" height="17.02" fill="#7ef0fa"/>
<rect x="301.3" y="190.05" width="8.2" height="17.02" fill="#52d6f8"/>
<rect x="301.3" y="206.76" width="8.2" height="17.02" fill="#3eb6f6"/>
<rect x="301.3" y="223.48" width="8.2" height="17.02" fill="#2062f4"/>
<line x1="309.5" y1="56.3" x2="309.5" y2="240.2" stroke="#222" stroke-width="1.00" />
<line x1="301.3" y1="56.3" x2="301.3" y2="240.2" stroke="#333" stroke-width="0.80" />
<line x1="309.5" y1="240.2" x2="318.0" y2="240.2" stroke="#111" stroke-width="1.20" />
<line x1="309.5" y1="226.4" x2="314.0" y2="226.4" stroke="#111" stroke-width="1.20" />
<line x1="309.5" y1="218.3" x2="314.0" y2="218.3" stroke="#111" stroke-width="1.20" />
<line x1="309.5" y1="212.5" x2="314.0" y2="212.5" stroke="#111" stroke-width="1.20" />
<line x1="309.5" y1="208.0" x2="314.0" y2="208.0" stroke="#111" stroke-width="1.20" />
<line x1="309.5" y1="204.4" x2="314.0" y2="204.4" stroke="#111" stroke-width="1.20" />
<line x1="309.5" y1="201.3" x2="314.0" y2="201.3" stroke="#111" stroke-width="1.20" />
<line x1="309.5" y1="198.7" x2="314.0" y2="198.7" stroke="#111" stroke-width="1.20" />
<line x1="309.5" y1="196.3" x2="314.0" y2="196.3" stroke="#111" stroke-width="1.20" />
<line x1="309.5" y1="194.2" x2="318.0" y2="194.2" stroke="#111" stroke-width="1.20" />
<line x1="309.5" y1="180.4" x2="314.0" y2="180.4" stroke="#111" stroke-width="1.20" />
<line x1="309.5" y1="172.3" x2="314.0" y2="172.3" stroke="#111" stroke-width="1.20" />
<line x1="309.5" y1="166.5" x2="314.0" y2="166.5" stroke="#111" stroke-width="1.20" />
<line x1="309.5" y1="162.0" x2="314.0" y2="162.0" stroke="#111" stroke-width="1.20" />
<line x1="309.5" y1="158.4" x2="314.0" y2="158.4" stroke="#111" stroke-width="1.20" />
<line x1="309.5" y1="155.3" x2="314.0" y2="155.3" stroke="#111" stroke-width="1.20" />
<line x1="309.5" y1="152.7" x2="314.0" y2="152.7" stroke="#111" stroke-width="1.20" />
<line x1="309.5" y1="150.3" x2="314.0" y2="150.3" stroke="#111" stroke-width="1.20" />
<line x1="309.5" y1="148.2" x2="318.0" y2="148.2" stroke="#111" stroke-width="1.20" />
<line x1="309.5" y1="134.4" x2="314.0" y2="134.4" stroke="#111" stroke-width="1.20" />
<line x1="309.5" y1="126.3" x2="314.0" y2="126.3" stroke="#111" stroke-width="1.20" />
<line x1="309.5" y1="120.5" x2="314.0" y2="120.5" stroke="#111" stroke-width="1.20" />
<line x1="309.5" y1="116.0" x2="314.0" y2="116.0" stroke="#111" stroke-width="1.20" />
<line x1="309.5" y1="112.4" x2="314.0" y2="112.4" stroke="#111" stroke-width="1.20" />
<line x1="309.5" y1="109.3" x2="314.0" y2="109.3" stroke="#111" stroke-width="1.20" />
<line x1="309.5" y1="106.7" x2="314.0" y2="106.7" stroke="#111" stroke-width="1.20" />
<line x1="309.5" y1="104.3" x2="314.0" y2="104.3" stroke="#111" stroke-width="1.20" />
<line x1="309.5" y1="102.2" x2="318.0" y2="102.2" stroke="#111" stroke-width="1.20" />
<line x1="309.5" y1="88.4" x2="314.0" y2="88.4" stroke="#111" stroke-width="1.20" />
<line x1="309.5" y1="80.3" x2="314.0" y2="80.3" stroke="#111" stroke-width="1.20" />
<line x1="309.5" y1="74.5" x2="314.0" y2="74.5" stroke="#111" stroke-width="1.20" />
<line x1="309.5" y1="70.0" x2="314.0" y2="70.0" stroke="#111" stroke-width="1.20" />
<line x1="309.5" y1="66.4" x2="314.0" y2="66.4" stroke="#111" stroke-width="1.20" />
<line x1="309.5" y1="63.3" x2="314.0" y2="63.3" stroke="#111" stroke-width="1.20" />
<line x1="309.5" y1="60.7" x2="314.0" y2="60.7" stroke="#111" stroke-width="1.20" />
<line x1="309.5" y1="58.3" x2="314.0" y2="58.3" stroke="#111" stroke-width="1.20" />
<line x1="309.5" y1="56.3" x2="318.0" y2="56.3" stroke="#111" stroke-width="1.20" />
<text x="322.8" y="246.6" font-size="11" fill="#1a1a1a">10<tspan dy="-6" font-size="8.5">2</tspan></text>
<text x="322.8" y="200.6" font-size="11" fill="#1a1a1a">10<tspan dy="-6" font-size="8.5">3</tspan></text>
<text x="322.8" y="154.6" font-size="11" fill="#1a1a1a">10<tspan dy="-6" font-size="8.5">4</tspan></text>
<text x="322.8" y="108.6" font-size="11" fill="#1a1a1a">10<tspan dy="-6" font-size="8.5">5</tspan></text>
<text x="322.8" y="62.6" font-size="11" fill="#1a1a1a">10<tspan dy="-6" font-size="8.5">6</tspan></text>
<text transform="translate(352.5,181) rotate(-90)" font-size="14" fill="#111">d<tspan font-style="italic">N</tspan>/dlog<tspan font-style="italic">d</tspan><tspan dy="3" font-size="9">p</tspan></text>
<line x1="410.4" y1="7.2" x2="410.4" y2="283.2" stroke="#555" stroke-width="1.00" />
<line x1="653.8" y1="7.2" x2="653.8" y2="283.2" stroke="#7a8298" stroke-width="1.10" />
<line x1="404.4" y1="7.2" x2="661.0" y2="7.2" stroke="#555" stroke-width="1.00" />
<line x1="404.4" y1="283.2" x2="661.0" y2="283.2" stroke="#555" stroke-width="1.00" />
<line x1="403.9" y1="283.2" x2="410.4" y2="283.2" stroke="#555" stroke-width="1.00" />
<line x1="653.8" y1="283.2" x2="660.3" y2="283.2" stroke="#555" stroke-width="1.00" />
<line x1="406.9" y1="241.7" x2="410.4" y2="241.7" stroke="#555" stroke-width="1.00" />
<line x1="653.8" y1="241.7" x2="657.3" y2="241.7" stroke="#555" stroke-width="1.00" />
<line x1="406.9" y1="217.4" x2="410.4" y2="217.4" stroke="#555" stroke-width="1.00" />
<line x1="653.8" y1="217.4" x2="657.3" y2="217.4" stroke="#555" stroke-width="1.00" />
<line x1="406.9" y1="200.1" x2="410.4" y2="200.1" stroke="#555" stroke-width="1.00" />
<line x1="653.8" y1="200.1" x2="657.3" y2="200.1" stroke="#555" stroke-width="1.00" />
<line x1="406.9" y1="186.7" x2="410.4" y2="186.7" stroke="#555" stroke-width="1.00" />
<line x1="653.8" y1="186.7" x2="657.3" y2="186.7" stroke="#555" stroke-width="1.00" />
<line x1="406.9" y1="175.8" x2="410.4" y2="175.8" stroke="#555" stroke-width="1.00" />
<line x1="653.8" y1="175.8" x2="657.3" y2="175.8" stroke="#555" stroke-width="1.00" />
<line x1="406.9" y1="166.6" x2="410.4" y2="166.6" stroke="#555" stroke-width="1.00" />
<line x1="653.8" y1="166.6" x2="657.3" y2="166.6" stroke="#555" stroke-width="1.00" />
<line x1="406.9" y1="158.6" x2="410.4" y2="158.6" stroke="#555" stroke-width="1.00" />
<line x1="653.8" y1="158.6" x2="657.3" y2="158.6" stroke="#555" stroke-width="1.00" />
<line x1="406.9" y1="151.5" x2="410.4" y2="151.5" stroke="#555" stroke-width="1.00" />
<line x1="653.8" y1="151.5" x2="657.3" y2="151.5" stroke="#555" stroke-width="1.00" />
<line x1="403.9" y1="145.2" x2="410.4" y2="145.2" stroke="#555" stroke-width="1.00" />
<line x1="653.8" y1="145.2" x2="660.3" y2="145.2" stroke="#555" stroke-width="1.00" />
<line x1="406.9" y1="103.7" x2="410.4" y2="103.7" stroke="#555" stroke-width="1.00" />
<line x1="653.8" y1="103.7" x2="657.3" y2="103.7" stroke="#555" stroke-width="1.00" />
<line x1="406.9" y1="79.4" x2="410.4" y2="79.4" stroke="#555" stroke-width="1.00" />
<line x1="653.8" y1="79.4" x2="657.3" y2="79.4" stroke="#555" stroke-width="1.00" />
<line x1="406.9" y1="62.1" x2="410.4" y2="62.1" stroke="#555" stroke-width="1.00" />
<line x1="653.8" y1="62.1" x2="657.3" y2="62.1" stroke="#555" stroke-width="1.00" />
<line x1="406.9" y1="48.7" x2="410.4" y2="48.7" stroke="#555" stroke-width="1.00" />
<line x1="653.8" y1="48.7" x2="657.3" y2="48.7" stroke="#555" stroke-width="1.00" />
<line x1="406.9" y1="37.8" x2="410.4" y2="37.8" stroke="#555" stroke-width="1.00" />
<line x1="653.8" y1="37.8" x2="657.3" y2="37.8" stroke="#555" stroke-width="1.00" />
<line x1="406.9" y1="28.6" x2="410.4" y2="28.6" stroke="#555" stroke-width="1.00" />
<line x1="653.8" y1="28.6" x2="657.3" y2="28.6" stroke="#555" stroke-width="1.00" />
<line x1="406.9" y1="20.6" x2="410.4" y2="20.6" stroke="#555" stroke-width="1.00" />
<line x1="653.8" y1="20.6" x2="657.3" y2="20.6" stroke="#555" stroke-width="1.00" />
<line x1="406.9" y1="13.5" x2="410.4" y2="13.5" stroke="#555" stroke-width="1.00" />
<line x1="653.8" y1="13.5" x2="657.3" y2="13.5" stroke="#555" stroke-width="1.00" />
<line x1="410.4" y1="7.2" x2="410.4" y2="4.2" stroke="#555" stroke-width="1.00" />
<text x="406.3" y="31.6" font-size="8.2" text-anchor="end" fill="#222">7</text>
<text x="406.3" y="40.8" font-size="8.2" text-anchor="end" fill="#222">6</text>
<text x="406.3" y="51.7" font-size="8.2" text-anchor="end" fill="#222">5</text>
<text x="406.3" y="65.1" font-size="8.2" text-anchor="end" fill="#222">4</text>
<text x="406.3" y="82.4" font-size="8.2" text-anchor="end" fill="#222">3</text>
<text x="406.3" y="106.7" font-size="8.2" text-anchor="end" fill="#222">2</text>
<text x="406.3" y="169.6" font-size="8.2" text-anchor="end" fill="#222">7</text>
<text x="406.3" y="178.8" font-size="8.2" text-anchor="end" fill="#222">6</text>
<text x="406.3" y="189.7" font-size="8.2" text-anchor="end" fill="#222">5</text>
<text x="406.3" y="203.1" font-size="8.2" text-anchor="end" fill="#222">4</text>
<text x="406.3" y="220.4" font-size="8.2" text-anchor="end" fill="#222">3</text>
<text x="406.3" y="244.7" font-size="8.2" text-anchor="end" fill="#222">2</text>
<text x="401.5" y="11.3" font-size="11.5" text-anchor="end" fill="#222">1000</text>
<text x="401.5" y="149.3" font-size="11.5" text-anchor="end" fill="#222">100</text>
<text x="401.5" y="287.3" font-size="11.5" text-anchor="end" fill="#222">10</text>
<line x1="410.2" y1="283.2" x2="410.2" y2="286.7" stroke="#555" stroke-width="1.00" />
<line x1="410.2" y1="7.2" x2="410.2" y2="3.7" stroke="#555" stroke-width="1.00" />
<line x1="418.5" y1="283.2" x2="418.5" y2="289.7" stroke="#555" stroke-width="1.00" />
<line x1="418.5" y1="7.2" x2="418.5" y2="0.7" stroke="#555" stroke-width="1.00" />
<line x1="472.9" y1="283.2" x2="472.9" y2="286.7" stroke="#555" stroke-width="1.00" />
<line x1="472.9" y1="7.2" x2="472.9" y2="3.7" stroke="#555" stroke-width="1.00" />
<line x1="504.8" y1="283.2" x2="504.8" y2="286.7" stroke="#555" stroke-width="1.00" />
<line x1="504.8" y1="7.2" x2="504.8" y2="3.7" stroke="#555" stroke-width="1.00" />
<line x1="527.4" y1="283.2" x2="527.4" y2="286.7" stroke="#555" stroke-width="1.00" />
<line x1="527.4" y1="7.2" x2="527.4" y2="3.7" stroke="#555" stroke-width="1.00" />
<line x1="544.9" y1="283.2" x2="544.9" y2="286.7" stroke="#555" stroke-width="1.00" />
<line x1="544.9" y1="7.2" x2="544.9" y2="3.7" stroke="#555" stroke-width="1.00" />
<line x1="559.2" y1="283.2" x2="559.2" y2="286.7" stroke="#555" stroke-width="1.00" />
<line x1="559.2" y1="7.2" x2="559.2" y2="3.7" stroke="#555" stroke-width="1.00" />
<line x1="571.3" y1="283.2" x2="571.3" y2="286.7" stroke="#555" stroke-width="1.00" />
<line x1="571.3" y1="7.2" x2="571.3" y2="3.7" stroke="#555" stroke-width="1.00" />
<line x1="581.8" y1="283.2" x2="581.8" y2="286.7" stroke="#555" stroke-width="1.00" />
<line x1="581.8" y1="7.2" x2="581.8" y2="3.7" stroke="#555" stroke-width="1.00" />
<line x1="591.0" y1="283.2" x2="591.0" y2="286.7" stroke="#555" stroke-width="1.00" />
<line x1="591.0" y1="7.2" x2="591.0" y2="3.7" stroke="#555" stroke-width="1.00" />
<line x1="599.3" y1="283.2" x2="599.3" y2="289.7" stroke="#555" stroke-width="1.00" />
<line x1="599.3" y1="7.2" x2="599.3" y2="0.7" stroke="#555" stroke-width="1.00" />
<line x1="653.7" y1="283.2" x2="653.7" y2="286.7" stroke="#555" stroke-width="1.00" />
<line x1="653.7" y1="7.2" x2="653.7" y2="3.7" stroke="#555" stroke-width="1.00" />
<text x="410.2" y="295.2" font-size="8.2" text-anchor="middle" fill="#222">9</text>
<text x="472.9" y="295.2" font-size="8.2" text-anchor="middle" fill="#222">2</text>
<text x="504.8" y="295.2" font-size="8.2" text-anchor="middle" fill="#222">3</text>
<text x="527.4" y="295.2" font-size="8.2" text-anchor="middle" fill="#222">4</text>
<text x="544.9" y="295.2" font-size="8.2" text-anchor="middle" fill="#222">5</text>
<text x="559.2" y="295.2" font-size="8.2" text-anchor="middle" fill="#222">6</text>
<text x="571.3" y="295.2" font-size="8.2" text-anchor="middle" fill="#222">7</text>
<text x="581.8" y="295.2" font-size="8.2" text-anchor="middle" fill="#222">8</text>
<text x="591.0" y="295.2" font-size="8.2" text-anchor="middle" fill="#222">9</text>
<text x="653.7" y="295.2" font-size="8.2" text-anchor="middle" fill="#222">2</text>
<text x="410.3" y="310.8" font-size="11.5" fill="#1a1a1a">10<tspan dy="-7.5" font-size="8.8">5</tspan></text>
<text x="591.3" y="310.8" font-size="11.5" fill="#1a1a1a">10<tspan dy="-7.5" font-size="8.8">6</tspan></text>
<text x="434" y="327" font-size="14.5" fill="#111">Excess [HNO<tspan dy="3.5" font-size="9.5">3</tspan><tspan dy="-3.5">] × [NH</tspan><tspan dy="3.5" font-size="9.5">3</tspan><tspan dy="-3.5">] (pptv</tspan><tspan dy="-8" font-size="10">2</tspan><tspan dy="8" dx="0.8">)</tspan></text>
<text transform="translate(381.9,207) rotate(-90)" font-size="14.3" fill="#111">Growth Rate (nm hr<tspan dy="-8" font-size="10">−1</tspan><tspan dy="8" dx="1.2">)</tspan></text>
<text x="420.5" y="18.3" font-size="8.5" font-weight="700" fill="#222">(c)</text>
<line x1="411" y1="223.4" x2="621.5" y2="9" stroke="#111" stroke-width="1.4" stroke-dasharray="2.5,1.8"/>
<rect x="532.6" y="54" width="16" height="49" fill="none" stroke="#2a3aa0" stroke-width="1.8"/>
<line x1="419.7" y1="224.0" x2="419.7" y2="235.0" stroke="#3ec0ea" stroke-width="1.10" /><line x1="416.7" y1="224.0" x2="422.7" y2="224.0" stroke="#3ec0ea" stroke-width="1.10" /><line x1="416.7" y1="235.0" x2="422.7" y2="235.0" stroke="#3ec0ea" stroke-width="1.10" />
<line x1="432.5" y1="204.5" x2="432.5" y2="259.8" stroke="#3ec0ea" stroke-width="1.10" /><line x1="429.5" y1="204.5" x2="435.5" y2="204.5" stroke="#3ec0ea" stroke-width="1.10" /><line x1="429.5" y1="259.8" x2="435.5" y2="259.8" stroke="#3ec0ea" stroke-width="1.10" />
<line x1="455.1" y1="201.7" x2="455.1" y2="219.4" stroke="#3ec0ea" stroke-width="1.10" /><line x1="452.1" y1="201.7" x2="458.1" y2="201.7" stroke="#3ec0ea" stroke-width="1.10" /><line x1="452.1" y1="219.4" x2="458.1" y2="219.4" stroke="#3ec0ea" stroke-width="1.10" />
<line x1="539.8" y1="58.4" x2="539.8" y2="84.0" stroke="#3ec0ea" stroke-width="1.10" /><line x1="536.8" y1="58.4" x2="542.8" y2="58.4" stroke="#3ec0ea" stroke-width="1.10" /><line x1="536.8" y1="84.0" x2="542.8" y2="84.0" stroke="#3ec0ea" stroke-width="1.10" />
<line x1="565.5" y1="91.7" x2="565.5" y2="119.2" stroke="#3ec0ea" stroke-width="1.10" /><line x1="562.5" y1="91.7" x2="568.5" y2="91.7" stroke="#3ec0ea" stroke-width="1.10" /><line x1="562.5" y1="119.2" x2="568.5" y2="119.2" stroke="#3ec0ea" stroke-width="1.10" />
<circle cx="419.70" cy="227.60" r="2.90" fill="#4cbaf0" stroke="#111" stroke-width="1.6"/>
<circle cx="432.50" cy="226.10" r="2.90" fill="#4cbaf0" stroke="#111" stroke-width="1.6"/>
<circle cx="455.10" cy="209.60" r="2.90" fill="#4cbaf0" stroke="#111" stroke-width="1.6"/>
<circle cx="539.80" cy="70.00" r="2.90" fill="#4cbaf0" stroke="#111" stroke-width="1.6"/>
<circle cx="565.50" cy="103.40" r="2.90" fill="#4cbaf0" stroke="#111" stroke-width="1.6"/>
<circle cx="621.80" cy="32.50" r="2.90" fill="#4cbaf0" stroke="#111" stroke-width="1.6"/>
<polygon points="419.8,215.6 424.2,220.0 419.8,224.4 415.4,220.0" fill="#f0605a" stroke="#111" stroke-width="1.1"/>
<polygon points="432.5,191.4 436.9,195.8 432.5,200.2 428.1,195.8" fill="#f0605a" stroke="#111" stroke-width="1.1"/>
<polygon points="455.1,182.3 459.5,186.7 455.1,191.1 450.7,186.7" fill="#f0605a" stroke="#111" stroke-width="1.1"/>
<polygon points="539.5,88.9 543.9,93.3 539.5,97.7 535.1,93.3" fill="#f0605a" stroke="#111" stroke-width="1.1"/>
<polygon points="565.9,60.3 570.3,64.7 565.9,69.1 561.5,64.7" fill="#f0605a" stroke="#111" stroke-width="1.1"/>
<polygon points="621.5,4.6 625.9,9.0 621.5,13.4 617.1,9.0" fill="#f0605a" stroke="#111" stroke-width="1.1"/>
<circle cx="438.30" cy="34.40" r="3.40" fill="#4cbaf0" stroke="#111" stroke-width="1.6"/>
<polygon points="438.4,42.5 443.6,47.7 438.4,52.9 433.2,47.7" fill="#f0605a" stroke="#111" stroke-width="1.1"/>
<text x="452" y="38.3" font-size="12" fill="#111">CLOUD</text>
<text x="455.6" y="51.6" font-size="12" fill="#111">Model</text>
</svg></body></html>
